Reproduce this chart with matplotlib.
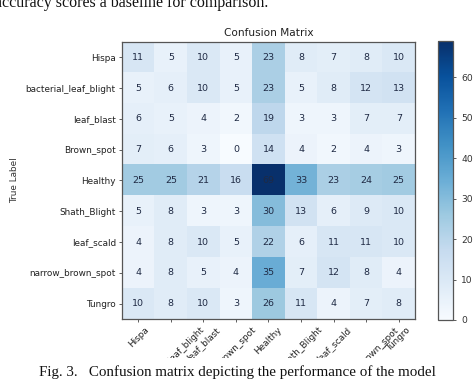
import numpy as np
import matplotlib
matplotlib.use("Agg")
import matplotlib.pyplot as plt
from matplotlib.patches import Rectangle

labels = ["Hispa", "bacterial_leaf_blight", "leaf_blast", "Brown_spot", "Healthy",
          "Shath_Blight", "leaf_scald", "narrow_brown_spot", "Tungro"]
cm = np.array([
    [11, 5, 10, 5, 23, 8, 7, 8, 10],
    [5, 6, 10, 5, 23, 5, 8, 12, 13],
    [6, 5, 4, 2, 19, 3, 3, 7, 7],
    [7, 6, 3, 0, 14, 4, 2, 4, 3],
    [25, 25, 21, 16, 69, 33, 23, 24, 25],
    [5, 8, 3, 3, 30, 13, 6, 9, 10],
    [4, 8, 10, 5, 22, 6, 11, 11, 10],
    [4, 8, 5, 4, 35, 7, 12, 8, 4],
    [10, 8, 10, 3, 26, 11, 4, 7, 8],
])
cbar_ticks = [0, 10, 20, 30, 40, 50, 60]

fig = plt.figure(figsize=(4.74, 3.84), dpi=100)
ax = fig.add_axes([0.2574, 0.1693, 0.6181, 0.7214])
cax = fig.add_axes([0.924, 0.1667, 0.0316, 0.7266])

im = ax.imshow(cm, cmap="Blues", vmin=0, vmax=cm.max(), aspect="auto")
for i in range(cm.shape[0]):
    for j in range(cm.shape[1]):
        ax.text(j, i, str(cm[i, j]), ha="center", va="center",
                color="#1f2a44", fontsize=6.8)

ax.set_xticks(range(len(labels)))
ax.set_yticks(range(len(labels)))
ax.set_xticklabels(labels, rotation=45, fontsize=6.4, color="#222222")
ax.set_yticklabels(labels, fontsize=6.4, color="#222222")
ax.tick_params(length=2.5, width=0.6, color="#444444", pad=2)
ax.set_title("Confusion Matrix", fontsize=7.6, color="#222222", pad=4)
ax.set_ylabel("True Label", fontsize=6.4, color="#333333", labelpad=5)
for s in ax.spines.values():
    s.set_color("#555555")
    s.set_linewidth(0.9)

cb = fig.colorbar(im, cax=cax, ticks=cbar_ticks)
cb.ax.tick_params(labelsize=6.6, length=2.5, width=0.6, color="#444444", labelcolor="#333333")
cb.outline.set_edgecolor("#555555")
cb.outline.set_linewidth(0.9)

# caption band covering the cut-off bottom of the tick labels
fig.patches.append(Rectangle((0, 0), 1, 0.068, transform=fig.transFigure,
                             facecolor="white", edgecolor="none", zorder=10))
fig.text(0.5, 0.02, "Fig. 3.   Confusion matrix depicting the performance of the model",
         ha="center", va="baseline", fontsize=10.8, family="Liberation Serif",
         color="#111111", zorder=11)
fig.text(-0.01, 0.982, "accuracy scores a baseline for comparison.",
         ha="left", va="baseline", fontsize=11.5, family="Liberation Serif",
         color="#111111", zorder=11)

fig.savefig("out.png", dpi=100)
